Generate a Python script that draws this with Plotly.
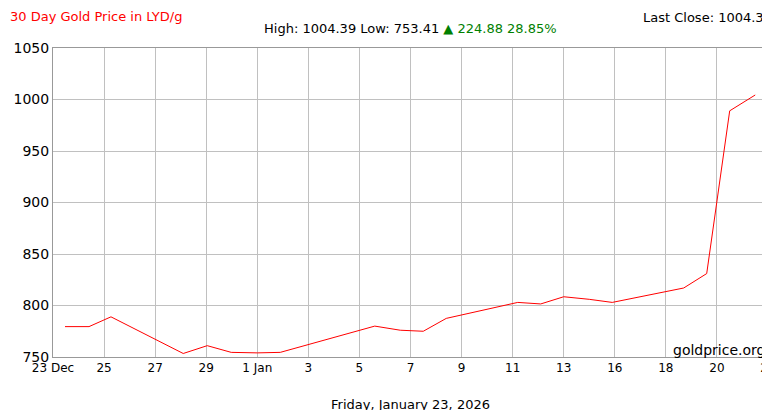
import plotly.graph_objects as go

x_idx = [0.47, 1.41, 2.27, 5.1, 6.04, 6.98, 8.0, 8.9, 12.6, 13.6, 14.5, 15.4, 18.2, 19.1, 20.0, 21.0, 21.9, 24.7, 25.6, 26.5, 27.5]
prices = [779.5, 779.5, 789, 753.41, 761, 754.5, 754, 754.5, 780, 776, 775, 787.5, 803, 801.5, 808.5, 806, 803, 817, 831, 989, 1004.39]
tick_pos = [0, 2, 4, 6, 8, 10, 12, 14, 16, 18, 20, 22, 24, 26, 28]
tick_labels = ["23 Dec", "25", "27", "29", "1 Jan", "3", "5", "7", "9", "11", "13", "16", "18", "20", "22"]
y_ticks = [750, 800, 850, 900, 950, 1000, 1050]

F = "DejaVu Sans"
fig = go.Figure(go.Scatter(x=x_idx, y=prices, mode="lines", line=dict(color="#ff0000", width=1), hoverinfo="skip"))
fig.update_layout(
    width=770, height=410, margin=dict(l=45, r=10, t=40, b=61, autoexpand=False),
    paper_bgcolor="white", plot_bgcolor="white", showlegend=False,
    font=dict(family=F, size=13, color="#000"),
    xaxis=dict(range=[0, 28], tickvals=tick_pos, ticktext=tick_labels, showgrid=True, gridcolor="#c0c0c0",
               linecolor="#999", mirror=True, showline=True, ticks="", automargin=False,
               tickfont=dict(size=12, family=F)),
    yaxis=dict(range=[750, 1050], tickvals=y_ticks, showgrid=True, gridcolor="#c0c0c0",
               linecolor="#999", mirror=True, showline=True, ticks="", automargin=False,
               tickfont=dict(size=14, family=F)),
    annotations=[
        dict(text="30 Day Gold Price in LYD/g", x=0, y=1, xref="paper", yref="paper", xanchor="left", yanchor="top",
             xshift=-45, yshift=41, showarrow=False, font=dict(color="#ff0000", size=13, family=F)),
        dict(text="Last Close: 1004.39", x=1, y=1, xref="paper", yref="paper", xanchor="right", yanchor="top",
             xshift=6, yshift=40, showarrow=False, font=dict(size=13, family=F)),
        dict(text="High: 1004.39 Low: 753.41 <span style='color:green'>▲ 224.88 28.85%</span>", x=0.5, y=1,
             xref="paper", yref="paper", xanchor="center", yanchor="top", yshift=29, showarrow=False,
             font=dict(size=13, family=F)),
        dict(text="goldprice.org", x=1, y=0, xref="paper", yref="paper", xanchor="right", yanchor="bottom",
             xshift=-1, yshift=-3, showarrow=False, font=dict(size=14, family=F)),
        dict(text="Friday, January 23, 2026", x=0.5, y=0, xref="paper", yref="paper", xanchor="center", yanchor="top",
             yshift=-38, showarrow=False, font=dict(size=13, family=F)),
    ],
)
fig.write_html("out.html")
